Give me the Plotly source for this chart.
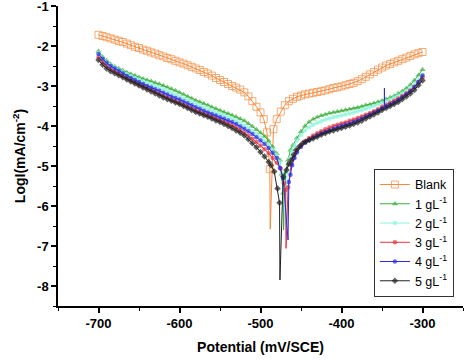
import plotly.graph_objects as go

# ---------------- data ----------------
series_names = ["Blank", "1 gL<sup>-1</sup>", "2 gL<sup>-1</sup>", "3 gL<sup>-1</sup>",
                "4 gL<sup>-1</sup>", "5 gL<sup>-1</sup>"]

# Blank
blank_E = [-700, -695, -690, -685, -680, -675, -670, -665, -660, -655, -650, -645, -640, -635,
           -630, -625, -620, -615, -610, -605, -600, -595, -590, -585, -580, -575, -570, -565,
           -560, -555, -550, -545, -540, -535, -530, -525, -520, -515, -510, -505, -500, -496,
           -492, -488.5,
           -484, -480, -475, -470, -465, -460, -455, -450, -445, -440, -435, -430, -425, -420,
           -415, -410, -405, -400, -395, -390, -385, -380, -375, -370, -365, -360, -355, -350,
           -345, -340, -335, -330, -325, -320, -315, -310, -305, -300]
blank_logI = [-1.72, -1.75, -1.78, -1.81, -1.84, -1.87, -1.90, -1.94, -1.98, -2.02, -2.05, -2.09,
              -2.12, -2.16, -2.19, -2.23, -2.26, -2.30, -2.33, -2.37, -2.41, -2.44, -2.48, -2.52,
              -2.56, -2.60, -2.65, -2.69, -2.74, -2.80, -2.85, -2.90, -2.95, -3.00, -3.04, -3.09,
              -3.16, -3.26, -3.38, -3.52, -3.66, -3.83, -4.16, -5.08,
              -4.08, -3.83, -3.64, -3.48, -3.38, -3.32, -3.27, -3.24, -3.21, -3.19, -3.17, -3.15,
              -3.13, -3.11, -3.08, -3.05, -3.03, -3.01, -2.98, -2.95, -2.92, -2.88, -2.83, -2.77,
              -2.71, -2.65, -2.59, -2.54, -2.49, -2.45, -2.41, -2.37, -2.33, -2.29, -2.25, -2.21,
              -2.18, -2.15]

# 1 gL-1
g1_E = [-700, -695, -690, -685, -680, -675, -670, -665, -660, -655, -650, -645, -640, -635,
        -630, -625, -620, -615, -610, -605, -600, -595, -590, -585, -580, -575, -570, -565,
        -560, -555, -550, -545, -540, -535, -530, -525, -520, -515, -510, -505, -500, -495,
        -490, -485, -480, -476, -474, -472,
        -469, -466, -463, -460, -455, -450, -445, -440, -435, -430, -425, -420, -415, -410,
        -405, -400, -395, -390, -385, -380, -375, -370, -365, -360, -355, -350, -345, -340,
        -335, -330, -325, -320, -315, -310, -305, -300]
g1_logI = [-2.13, -2.27, -2.36, -2.45, -2.51, -2.56, -2.61, -2.66, -2.70, -2.74, -2.78, -2.82,
           -2.85, -2.88, -2.92, -2.95, -2.99, -3.03, -3.07, -3.11, -3.16, -3.21, -3.26, -3.31,
           -3.36, -3.40, -3.44, -3.48, -3.53, -3.57, -3.61, -3.65, -3.69, -3.73, -3.77, -3.82,
           -3.87, -3.94, -4.01, -4.09, -4.17, -4.26, -4.37, -4.52, -4.69, -4.85, -5.20, -5.68,
           -5.15, -4.85, -4.60, -4.48, -4.30, -4.14, -4.00, -3.90, -3.83, -3.78, -3.74, -3.71,
           -3.68, -3.66, -3.64, -3.62, -3.60, -3.58, -3.56, -3.54, -3.51, -3.48, -3.46, -3.43,
           -3.40, -3.37, -3.33, -3.29, -3.25, -3.19, -3.13, -3.06, -2.97, -2.86, -2.73, -2.59]

# 2 gL-1
g2_E = [-700, -695, -690, -685, -680, -675, -670, -665, -660, -655, -650, -645, -640, -635,
        -630, -625, -620, -615, -610, -605, -600, -595, -590, -585, -580, -575, -570, -565,
        -560, -555, -550, -545, -540, -535, -530, -525, -520, -515, -510, -505, -500, -495,
        -490, -485, -480, -476, -473, -471,
        -467, -464, -461, -458, -455, -450, -445, -440, -435, -430, -425, -420, -415, -410,
        -405, -400, -395, -390, -385, -380, -375, -370, -365, -360, -355, -350, -345, -340,
        -335, -330, -325, -320, -315, -310, -305, -300]
g2_logI = [-2.17, -2.29, -2.39, -2.47, -2.53, -2.59, -2.64, -2.70, -2.75, -2.80, -2.84, -2.88,
           -2.92, -2.96, -3.00, -3.04, -3.08, -3.13, -3.17, -3.22, -3.26, -3.31, -3.35, -3.40,
           -3.45, -3.49, -3.54, -3.58, -3.62, -3.66, -3.70, -3.74, -3.78, -3.82, -3.87, -3.93,
           -3.99, -4.05, -4.12, -4.20, -4.28, -4.37, -4.47, -4.59, -4.72, -4.90, -5.20, -5.52,
           -5.10, -4.82, -4.62, -4.48, -4.36, -4.22, -4.11, -4.03, -3.97, -3.92, -3.88, -3.84,
           -3.81, -3.78, -3.76, -3.74, -3.71, -3.69, -3.66, -3.63, -3.60, -3.57, -3.54, -3.50,
           -3.46, -3.42, -3.38, -3.34, -3.29, -3.24, -3.18, -3.12, -3.04, -2.95, -2.84, -2.72]

# 3 gL-1
g3_E = [-700, -695, -690, -685, -680, -675, -670, -665, -660, -655, -650, -645, -640, -635,
        -630, -625, -620, -615, -610, -605, -600, -595, -590, -585, -580, -575, -570, -565,
        -560, -555, -550, -545, -540, -535, -530, -525, -520, -515, -510, -505, -500, -495,
        -490, -485, -480, -475, -471, -469,
        -466, -462, -459, -455, -450, -445, -440, -435, -430, -425, -420, -415, -410,
        -405, -400, -395, -390, -385, -380, -375, -370, -365, -360, -355, -350, -345, -340,
        -335, -330, -325, -320, -315, -310, -305, -300]
g3_logI = [-2.28, -2.40, -2.50, -2.58, -2.63, -2.69, -2.75, -2.81, -2.86, -2.91, -2.96, -3.01,
           -3.06, -3.10, -3.15, -3.20, -3.25, -3.29, -3.34, -3.38, -3.42, -3.47, -3.51, -3.56,
           -3.61, -3.65, -3.69, -3.73, -3.77, -3.81, -3.85, -3.89, -3.94, -3.99, -4.04, -4.10,
           -4.17, -4.24, -4.32, -4.40, -4.49, -4.58, -4.68, -4.80, -4.92, -5.06, -5.43, -5.60,
           -5.53, -4.95, -4.78, -4.62, -4.48, -4.38, -4.30, -4.24, -4.18, -4.13, -4.08, -4.04,
           -4.00, -3.97, -3.94, -3.91, -3.87, -3.84, -3.80, -3.76, -3.72, -3.68, -3.63, -3.58,
           -3.52, -3.47, -3.42, -3.37, -3.31, -3.25, -3.18, -3.11, -3.02, -2.91, -2.78]

# 4 gL-1
g4_E = [-700, -695, -690, -685, -680, -675, -670, -665, -660, -655, -650, -645, -640, -635,
        -630, -625, -620, -615, -610, -605, -600, -595, -590, -585, -580, -575, -570, -565,
        -560, -555, -550, -545, -540, -535, -530, -525, -520, -515, -510, -505, -500, -495,
        -490, -485, -480, -476, -472,
        -465, -463, -461, -458, -455, -450, -445, -440, -435, -430, -425, -420, -415, -410,
        -405, -400, -395, -390, -385, -380, -375, -370, -365, -360, -355, -350, -345, -340,
        -335, -330, -325, -320, -315, -310, -305, -300]
g4_logI = [-2.20, -2.32, -2.42, -2.50, -2.56, -2.62, -2.68, -2.75, -2.80, -2.85, -2.90, -2.95,
           -3.00, -3.04, -3.08, -3.12, -3.17, -3.21, -3.26, -3.30, -3.34, -3.39, -3.43, -3.48,
           -3.53, -3.57, -3.62, -3.66, -3.70, -3.74, -3.78, -3.82, -3.86, -3.90, -3.95, -4.01,
           -4.07, -4.13, -4.20, -4.28, -4.36, -4.45, -4.55, -4.67, -4.80, -5.05, -5.31,
           -5.40, -5.22, -4.98, -4.80, -4.66, -4.52, -4.42, -4.35, -4.29, -4.24, -4.19, -4.15,
           -4.11, -4.07, -4.03, -4.00, -3.97, -3.94, -3.90, -3.86, -3.82, -3.77, -3.72, -3.67,
           -3.62, -3.56, -3.51, -3.46, -3.41, -3.35, -3.28, -3.21, -3.13, -3.03, -2.90, -2.74]

# 5 gL-1
g5_E = [-700, -695, -690, -685, -680, -675, -670, -665, -660, -655, -650, -645, -640, -635,
        -630, -625, -620, -615, -610, -605, -600, -595, -590, -585, -580, -575, -570, -565,
        -560, -555, -550, -545, -540, -535, -530, -525, -520, -515, -510, -505, -500, -495,
        -490, -487, -483, -479, -476.5,
        -472, -468, -465, -462, -459, -456, -452, -448, -444, -440, -435, -430, -425, -420,
        -415, -410, -405, -400, -395, -390, -385, -380, -375, -370, -365, -360, -355, -350,
        -345, -340, -335, -330, -325, -320, -315, -310, -305, -300]
g5_logI = [-2.35, -2.47, -2.56, -2.63, -2.68, -2.73, -2.78, -2.84, -2.89, -2.94, -2.99, -3.04,
           -3.09, -3.14, -3.19, -3.24, -3.29, -3.33, -3.37, -3.41, -3.45, -3.50, -3.55, -3.60,
           -3.65, -3.69, -3.73, -3.77, -3.81, -3.86, -3.90, -3.95, -4.00, -4.05, -4.11, -4.17,
           -4.24, -4.33, -4.43, -4.53, -4.65, -4.76, -4.90, -4.98, -5.14, -5.56, -5.92,
           -5.27, -5.10, -4.95, -4.85, -4.72, -4.60, -4.51, -4.43, -4.39, -4.35, -4.31, -4.27,
           -4.22, -4.18, -4.14, -4.11, -4.08, -4.05, -4.02, -3.99, -3.95, -3.91, -3.87, -3.81,
           -3.76, -3.71, -3.66, -3.60, -3.55, -3.50, -3.45, -3.40, -3.33, -3.26, -3.19, -3.10,
           -2.98, -2.86]

# corrosion potential spikes: potential and the lowest logI reached
ecorr_E = [-488, -471.5, -470, -468.5, -466, -476]
ecorr_min = [-6.58, -6.60, -6.50, -7.06, -6.85, -7.85]

# small glitch on the 4 gL-1 anodic branch
glitch_E = [-347, -347]
glitch_logI = [-3.56, -3.05]

x_ticks = [-700, -600, -500, -400, -300]
y_ticks = [-8, -7, -6, -5, -4, -3, -2, -1]

# ---------------- styling ----------------
colors = ["#F5893C", "#3DAE3D", "#8CF5DC", "#E8343C", "#2B2BE3", "#222222"]
symbols = ["square-open", "triangle-up", "circle", "circle", "circle", "diamond"]
sizes = [7, 5.5, 4.5, 4.5, 4.5, 5]

all_E = [blank_E, g1_E, g2_E, g3_E, g4_E, g5_E]
all_I = [blank_logI, g1_logI, g2_logI, g3_logI, g4_logI, g5_logI]

fig = go.Figure()
for i in range(6):
    E, I = all_E[i], all_I[i]
    left = [(e, v) for e, v in zip(E, I) if e <= ecorr_E[i]]
    right = [(e, v) for e, v in zip(E, I) if e > ecorr_E[i]]
    xs = [p[0] for p in left] + [ecorr_E[i]] + [p[0] for p in right]
    ys = [p[1] for p in left] + [ecorr_min[i]] + [p[1] for p in right]
    msz = [sizes[i]] * len(left) + [0] + [sizes[i]] * len(right)
    fig.add_trace(go.Scatter(
        x=xs, y=ys, mode="lines+markers", name=series_names[i],
        line=dict(color=colors[i], width=1),
        marker=dict(symbol=symbols[i], size=msz, color=colors[i],
                    line=dict(color=colors[i], width=1 if i == 0 else 0)),
    ))

fig.add_trace(go.Scatter(x=glitch_E, y=glitch_logI, mode="lines", showlegend=False,
                         line=dict(color=colors[4], width=1.2)))

axis_common = dict(
    showline=True, linecolor="black", linewidth=1.5, mirror=False,
    ticks="outside", ticklen=5, tickwidth=1.5, tickcolor="black",
    showgrid=False, zeroline=False, automargin=False, ticklabeloverflow="allow",
    tickfont=dict(family="Liberation Sans, Arial", size=13, color="black", weight="bold"),
)

fig.update_layout(
    width=474, height=364,
    margin=dict(l=58, r=11, t=6, b=58),
    paper_bgcolor="white", plot_bgcolor="white",
    font=dict(family="Liberation Sans, Arial", color="black"),
    xaxis=dict(range=[-750, -250], tickvals=x_ticks, ticktext=[str(v) for v in x_ticks],
               minor=dict(dtick=50, tick0=-750, ticks="outside", ticklen=3, tickwidth=1.2,
                          tickcolor="black"),
               title=dict(text="Potential (mV/SCE)", standoff=12,
                          font=dict(size=14, weight="bold", color="black")),
               **axis_common),
    yaxis=dict(range=[-8.5, -1], tickvals=y_ticks, ticktext=[str(v) for v in y_ticks],
               minor=dict(dtick=0.5, tick0=-8.5, ticks="outside", ticklen=3, tickwidth=1.2,
                          tickcolor="black"),
               title=dict(text="LogI(mA/cm<sup>-2</sup>)", standoff=8,
                          font=dict(size=14, weight="bold", color="black")),
               **axis_common),
    legend=dict(x=0.78, y=0.457, xanchor="left", yanchor="top",
                bgcolor="white", bordercolor="#333333", borderwidth=1,
                font=dict(family="Liberation Sans, Arial", size=12.5, color="black"),
                tracegroupgap=0, itemwidth=30),
    showlegend=True,
)

fig.write_html("out.html", config={"displayModeBar": False},
               post_script="document.body.style.margin='0';document.body.style.overflow='hidden';")
